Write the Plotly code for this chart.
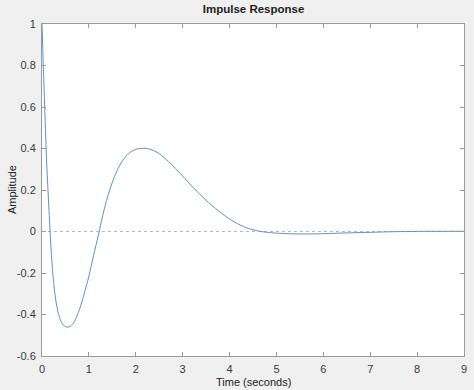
import plotly.graph_objects as go

# Data
time_s = [0, 0.05, 0.10, 0.15, 0.20, 0.25, 0.30, 0.35, 0.40, 0.45, 0.50, 0.55, 0.60, 0.65, 0.70,
          0.80, 0.90, 1.00, 1.10, 1.20, 1.30, 1.40, 1.50, 1.60, 1.70, 1.80, 1.90, 2.00, 2.10,
          2.20, 2.30, 2.40, 2.50, 2.60, 2.70, 2.80, 2.90, 3.00, 3.20, 3.40, 3.60, 3.80, 4.00,
          4.20, 4.40, 4.60, 4.80, 5.00, 5.30, 5.60, 5.90, 6.20, 6.60, 7.00, 7.50, 8.00, 8.50, 9.00]
amplitude = [1.0, 0.65, 0.33, 0.10, -0.11, -0.25, -0.34, -0.395, -0.43, -0.45, -0.458, -0.461,
             -0.457, -0.447, -0.43, -0.375, -0.30, -0.215, -0.115, -0.02, 0.082, 0.168, 0.237,
             0.293, 0.335, 0.365, 0.385, 0.396, 0.400, 0.401, 0.397, 0.388, 0.375, 0.357, 0.337,
             0.315, 0.291, 0.267, 0.218, 0.172, 0.130, 0.093, 0.060, 0.034, 0.015, 0.003, -0.004,
             -0.008, -0.011, -0.012, -0.011, -0.009, -0.006, -0.004, -0.001, 0.0005, 0.001, 0.001]

x_ticks = [0, 1, 2, 3, 4, 5, 6, 7, 8, 9]
x_tick_text = ["0", "1", "2", "3", "4", "5", "6", "7", "8", "9"]
y_ticks = [-0.6, -0.4, -0.2, 0, 0.2, 0.4, 0.6, 0.8, 1]
y_tick_text = ["-0.6", "-0.4", "-0.2", "0", "0.2", "0.4", "0.6", "0.8", "1"]

title_text = "Impulse Response"
x_label = "Time (seconds)"
y_label = "Amplitude"

FONT = "Liberation Sans, Arial, Helvetica, sans-serif"

fig = go.Figure()
fig.add_trace(go.Scatter(x=[x_ticks[0], x_ticks[-1]], y=[0, 0], mode="lines",
                         line=dict(color="#b8b8b8", width=1, dash="dot"),
                         hoverinfo="skip", showlegend=False))
fig.add_trace(go.Scatter(x=time_s, y=amplitude, mode="lines",
                         line=dict(color="#5f8fc4", width=1, shape="spline", smoothing=0.8),
                         showlegend=False))

axis_common = dict(showline=True, linecolor="#9a9a9a", linewidth=1, mirror="ticks",
                   ticks="inside", ticklen=4, tickcolor="#9a9a9a", showgrid=False,
                   zeroline=False, automargin=False,
                   tickfont=dict(family=FONT, size=11, color="#3a3a3a"))

fig.update_layout(
    width=474, height=390,
    margin=dict(l=42, r=10, t=24, b=34, autoexpand=False),
    paper_bgcolor="#f0f0f0", plot_bgcolor="#ffffff",
    title=dict(text="<b>" + title_text + "</b>", x=0.535, xanchor="center",
               y=1 - 9 / 390, yanchor="middle",
               font=dict(family=FONT, size=11.5, color="#222222")),
    xaxis=dict(range=[0, 9], tickvals=x_ticks, ticktext=x_tick_text, ticklabelstandoff=3,
               ticklabeloverflow="allow", **axis_common),
    yaxis=dict(range=[-0.6, 1], tickvals=y_ticks, ticktext=y_tick_text, ticklabelstandoff=3,
               ticklabeloverflow="allow", **axis_common),
    annotations=[
        dict(text=x_label, xref="paper", yref="paper", x=0.5, y=-26 / 332,
             xanchor="center", yanchor="middle", showarrow=False,
             font=dict(family=FONT, size=11, color="#222222")),
        dict(text=y_label, xref="paper", yref="paper", x=-30 / 422, y=0.5,
             xanchor="center", yanchor="middle", textangle=-90, showarrow=False,
             font=dict(family=FONT, size=11, color="#222222")),
    ],
)

fig.write_html("out.html", config={"displayModeBar": False},
               post_script="document.body.style.margin='0px';document.body.style.overflow='hidden';")
